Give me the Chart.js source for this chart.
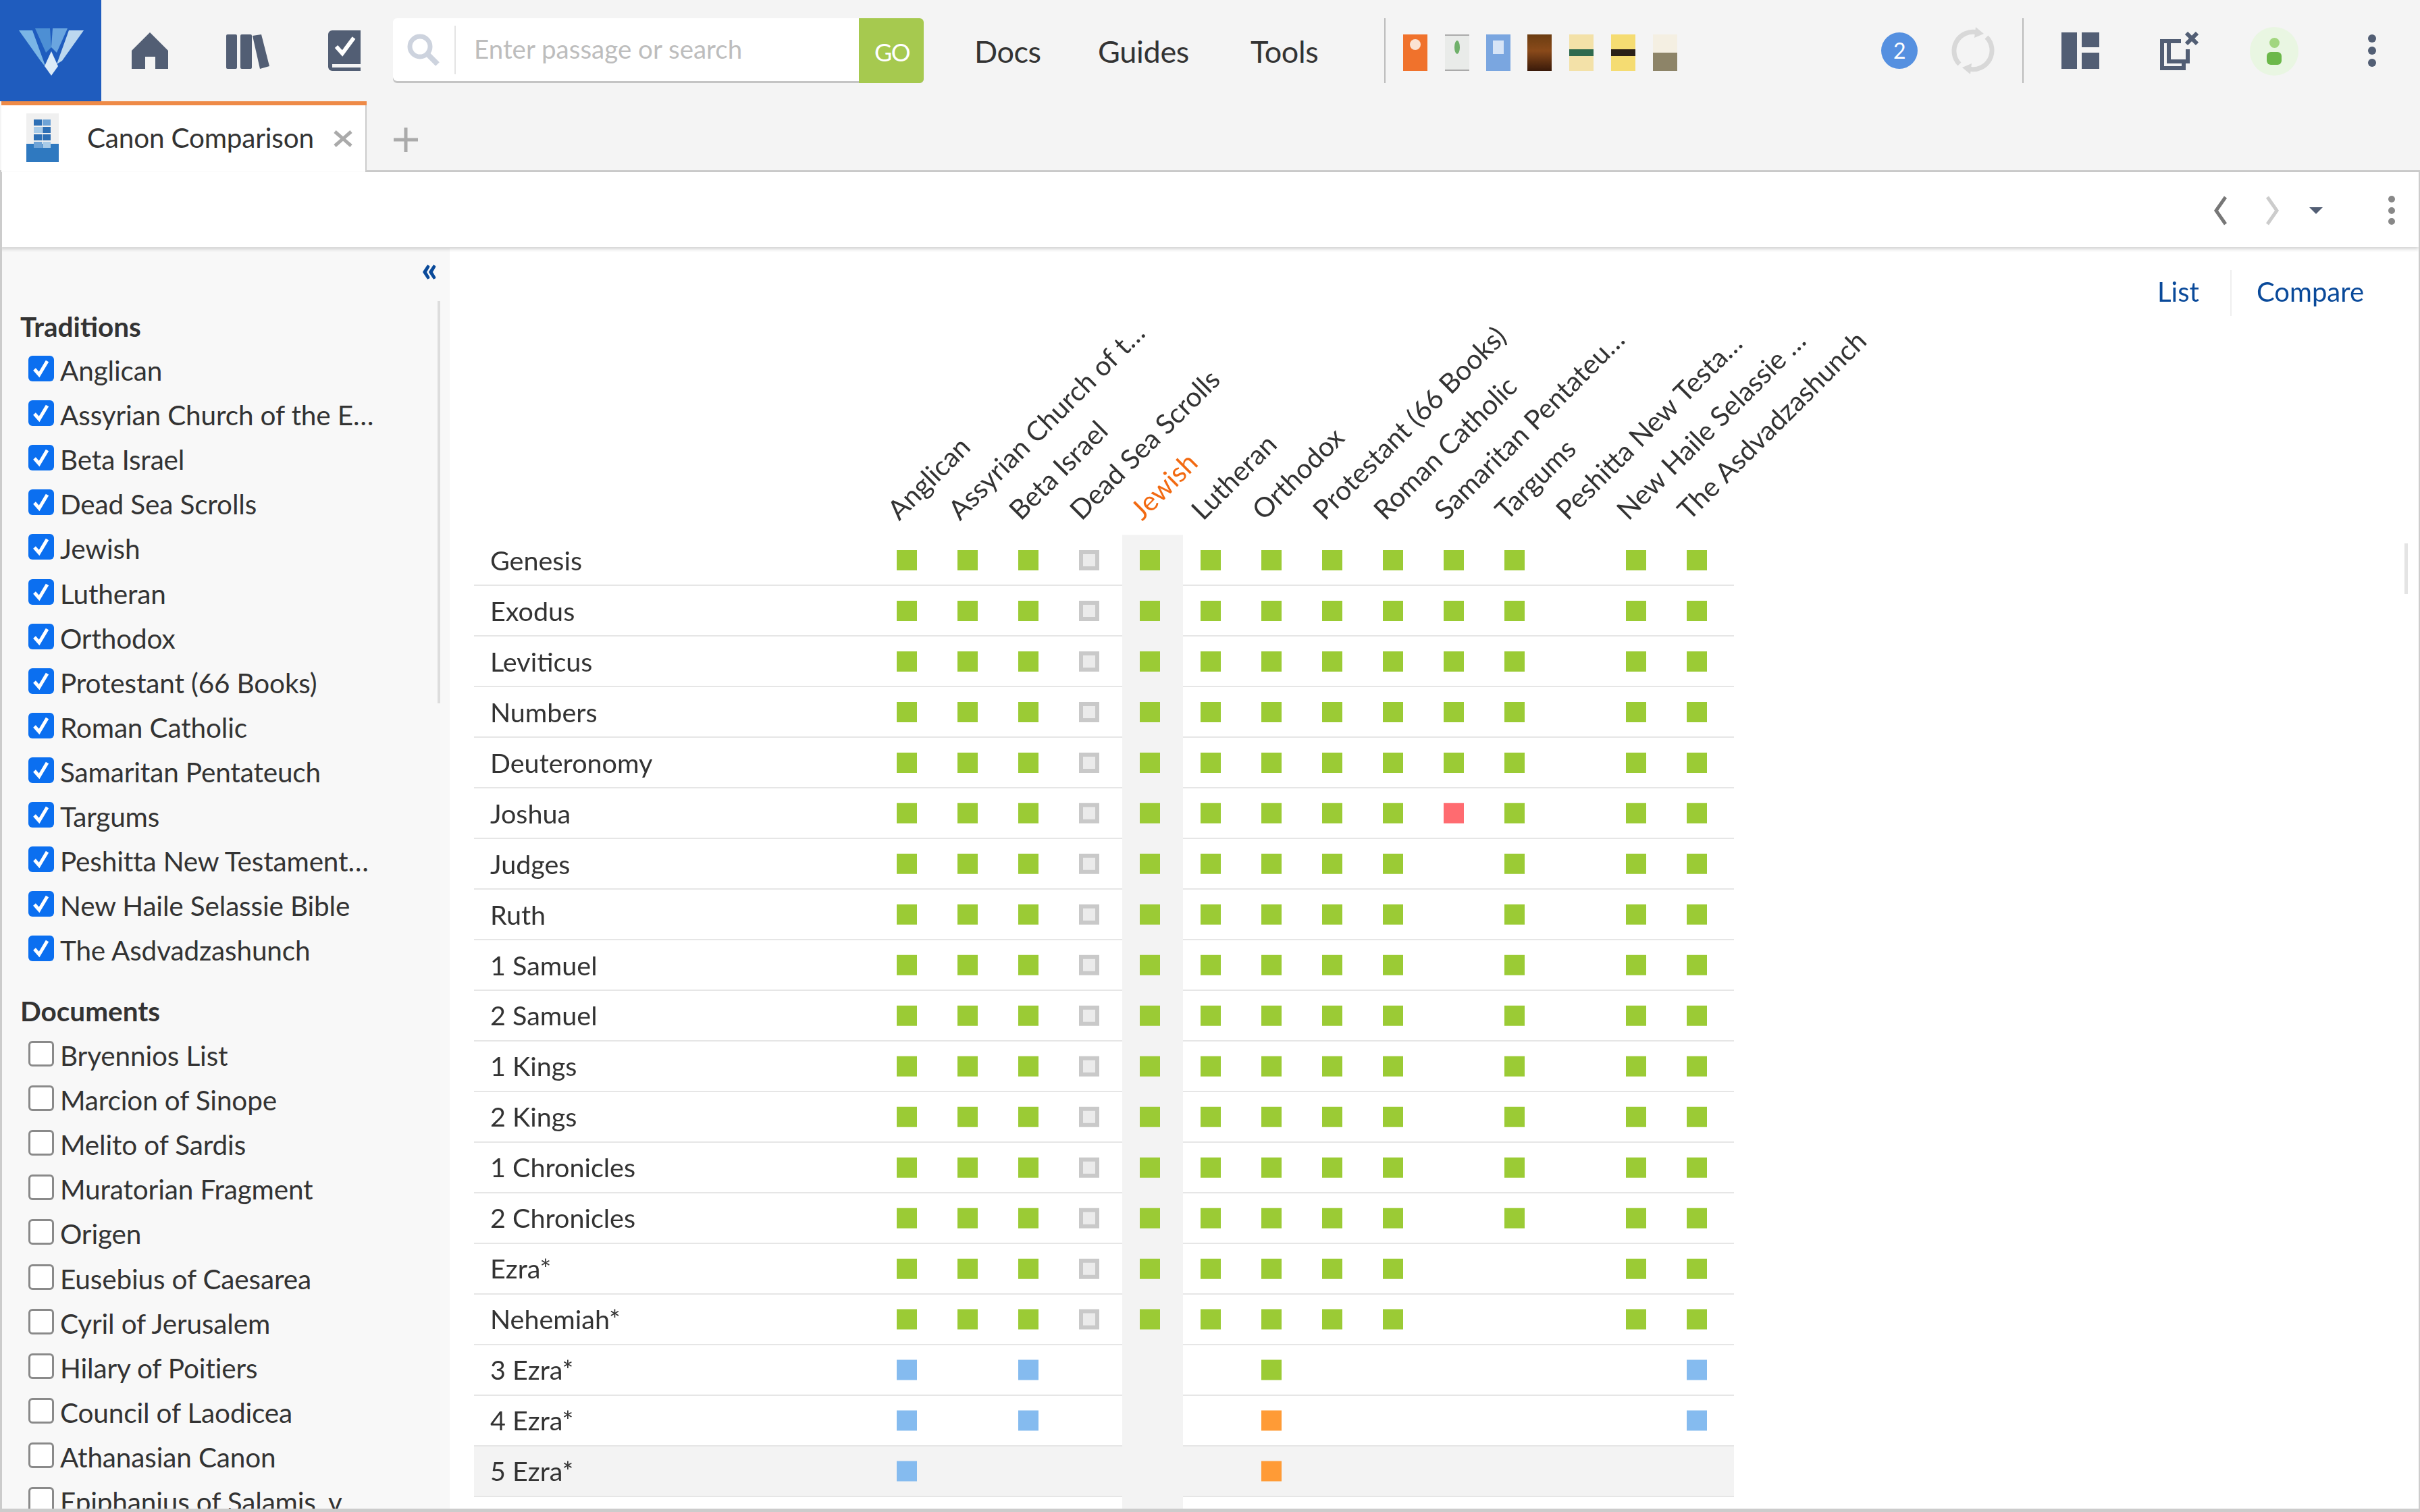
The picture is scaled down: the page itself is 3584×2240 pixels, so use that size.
<!DOCTYPE html>
<html>
<head>
<meta charset="utf-8">
<title>Canon Comparison</title>
<script src="https://cdn.jsdelivr.net/npm/chart.js@4"></script>
<style>
    html, body { margin: 0; padding: 0; width: 3584px; height: 2240px; overflow: hidden; background: #fff; }
    body { font-family: Lato, sans-serif; color: #333; position: relative; }
    .abs { position: absolute; }
    .txt { position: absolute; white-space: nowrap; line-height: 1; transform: translateY(-50%); }
    #topbar { left: 0; top: 0; width: 3584px; height: 252px; background: #f4f4f4; }
    #toolbar { left: 0; top: 255px; width: 3582px; height: 111px; background: #fff; box-shadow: 0 3px 5px rgba(0,0,0,.18); z-index: 2; }
    #sidebar { left: 3px; top: 368px; width: 663px; height: 1867px; background: #f8f8f8; overflow: hidden; }
    .check { position: absolute; left: 39px; width: 38px; height: 38px; border-radius: 6px; box-sizing: border-box; }
    .check.on { background: #0b6ff0; }
    .check.off { background: #fff; border: 3px solid #8a8a8a; }
    .side-label { font-size: 40.5px; letter-spacing: -0.15px; left: 86px; }
    .side-head { font-size: 40.5px; font-weight: 700; left: 27px; }
    #chartWrap { position: absolute; left: 668px; top: 370px; width: 2896px; height: 1870px; }
</style>
</head>
<body>
<div id="topbar" class="abs"></div>
<div class="abs" style="left:0;top:252px;width:3584px;height:3px;background:#ccc"></div>
<div class="abs" style="left:0;top:0;width:150px;height:150px;background:#1f5cbe"></div>
<svg class="abs" style="left:26px;top:40px" width="100" height="72" viewBox="0 0 100 72">
    <polygon points="2,5 22,5 42,60 34,50" fill="#7ab5e6"/>
    <polygon points="98,5 76,5 58,55 66,50" fill="#bcd8ef"/>
    <polygon points="26,2 48,2 50,30 42,38" fill="#4d8fd4"/>
    <polygon points="74,2 52,2 50,30 58,38" fill="#6aa5df"/>
    <polygon points="50,36 60,58 50,72 40,58" fill="#dcebf8"/>
</svg>
<svg class="abs" style="left:195px;top:48px" width="54" height="54" viewBox="0 0 54 54">
    <path d="M27 0 L54 27 V54 H35 V36 H20 V54 H0 V27 Z" fill="#525e74"/>
</svg>
<svg class="abs" style="left:335px;top:51px" width="64" height="51" viewBox="0 0 64 51">
    <rect x="0" width="16" height="51" rx="2" fill="#525e74"/><rect x="21" width="17" height="51" rx="2" fill="#525e74"/>
    <polygon points="39,2 52,0 64,47 50,51" fill="#525e74"/>
</svg>
<svg class="abs" style="left:486px;top:45px" width="48" height="60" viewBox="0 0 48 60">
    <path d="M6 0 H48 V60 H6 A6 6 0 0 1 0 54 V6 A6 6 0 0 1 6 0 Z" fill="#525e74"/>
    <rect x="6" y="50" width="42" height="5" fill="#f4f4f4"/>
    <path d="M12 24 L21 34 L38 11" fill="none" stroke="#fff" stroke-width="6"/>
</svg>
<div class="abs" style="left:582px;top:27px;width:786px;height:93px;background:#fff;border-radius:6px;box-shadow:0 3px 0 #c4c4c4"></div>
<svg class="abs" style="left:603px;top:50px" width="48" height="48" viewBox="0 0 48 48">
    <circle cx="19" cy="19" r="15" fill="none" stroke="#cdd3de" stroke-width="7"/><line x1="30" y1="30" x2="45" y2="45" stroke="#cdd3de" stroke-width="8"/>
</svg>
<div class="abs" style="left:673px;top:38px;width:2px;height:72px;background:#e4e4e4"></div>
<div class="txt" style="left:702px;top:72px;font-size:38.5px;color:#bdbdbd">Enter passage or search</div>
<div class="abs" style="left:1272px;top:27px;width:96px;height:96px;background:#a6c94f;border-radius:0 6px 6px 0"></div>
<div class="txt" style="left:1295px;top:77px;font-size:36px;letter-spacing:-1.5px;color:#fff">GO</div>
<div class="txt" style="left:1443px;top:76px;font-size:45px;letter-spacing:-.5px">Docs</div>
<div class="txt" style="left:1626px;top:76px;font-size:45px;letter-spacing:-.3px">Guides</div>
<div class="txt" style="left:1852px;top:76px;font-size:45px;letter-spacing:-.4px">Tools</div>
<div class="abs" style="left:2050px;top:27px;width:2px;height:96px;background:#bbb"></div>
<div class="abs" style="left:2078px;top:51px;width:36px;height:54px;background:#f0722c"></div>
<div class="abs" style="left:2088px;top:58px;width:16px;height:16px;border-radius:50%;background:#fbe3d3"></div>
<div class="abs" style="left:2140px;top:51px;width:36px;height:54px;background:#e9ebe9;border-top:2px solid #aaa;border-bottom:2px solid #aaa;box-sizing:border-box"></div>
<div class="abs" style="left:2154px;top:60px;width:8px;height:20px;border-radius:50%;background:#6fb06a"></div>
<div class="abs" style="left:2201px;top:51px;width:36px;height:54px;background:#7aa6e0"></div>
<div class="abs" style="left:2211px;top:60px;width:16px;height:20px;background:#d7e4f6"></div>
<div class="abs" style="left:2262px;top:51px;width:36px;height:54px;background:linear-gradient(#6b3d12,#8a4a1a 45%,#3a1a0a)"></div>
<div class="abs" style="left:2324px;top:51px;width:36px;height:54px;background:linear-gradient(#f3e1a8 40%,#2f6a4e 40%,#2f6a4e 60%,#f3e1a8 60%)"></div>
<div class="abs" style="left:2386px;top:51px;width:36px;height:54px;background:linear-gradient(#f5dc72 40%,#2a2018 40%,#2a2018 60%,#f5dc72 60%)"></div>
<div class="abs" style="left:2448px;top:51px;width:36px;height:54px;background:linear-gradient(#f4efe2 50%,#8d8468 50%)"></div>
<div class="abs" style="left:2786px;top:48px;width:54px;height:54px;border-radius:50%;background:#5590e0"></div>
<div class="txt" style="left:2804px;top:75px;font-size:32px;color:#fff">2</div>
<svg class="abs" style="left:2888px;top:40px" width="68" height="70" viewBox="0 0 68 70">
    <path d="M14 55 A28 28 0 0 1 40 8" fill="none" stroke="#d8d8d8" stroke-width="7"/><path d="M54 15 A28 28 0 0 1 28 62" fill="none" stroke="#d8d8d8" stroke-width="7"/>
    <polygon points="38,0 50,10 36,16" fill="#d8d8d8"/><polygon points="30,70 18,60 32,54" fill="#d8d8d8"/>
</svg>
<div class="abs" style="left:2995px;top:27px;width:2px;height:96px;background:#bbb"></div>
<svg class="abs" style="left:3053px;top:48px" width="56" height="54" viewBox="0 0 56 54">
    <rect width="23" height="54" fill="#525e74"/><rect x="30" width="26" height="22" fill="#525e74"/><rect x="30" y="30" width="26" height="24" fill="#525e74"/>
</svg>
<svg class="abs" style="left:3194px;top:47px" width="62" height="58" viewBox="0 0 62 58">
    <path d="M22 14 H8 V42 M8 42 V54 H40 V44" fill="none" stroke="#525e74" stroke-width="6"/>
    <path d="M36 14 H18 V44 H46 V26" fill="none" stroke="#525e74" stroke-width="6"/>
    <path d="M44 2 L60 18 M60 2 L44 18" stroke="#525e74" stroke-width="6"/>
</svg>
<div class="abs" style="left:3332px;top:40px;width:72px;height:72px;border-radius:50%;background:#e9f6e2"></div>
<div class="abs" style="left:3361px;top:56px;width:15px;height:15px;border-radius:50%;background:#a2d67f"></div>
<div class="abs" style="left:3357px;top:77px;width:22px;height:19px;border-radius:6px;background:#6cb84a"></div>
<div class="abs" style="left:3507px;top:51px;width:12px;height:12px;border-radius:50%;background:#525e74"></div>
<div class="abs" style="left:3507px;top:69px;width:12px;height:12px;border-radius:50%;background:#525e74"></div>
<div class="abs" style="left:3507px;top:87px;width:12px;height:12px;border-radius:50%;background:#525e74"></div>

<div class="abs" style="left:2px;top:150px;width:539px;height:105px;background:#fff;border-right:2px solid #ccc;z-index:1"></div>
<div class="abs" style="left:2px;top:150px;width:541px;height:6px;background:#ee8a47;z-index:1"></div>
<div class="abs" style="left:39px;top:168px;width:48px;height:72px;z-index:1;background:linear-gradient(#f0f0f0 62%,#2f79c0 62%)"></div>
<div class="abs" style="left:50px;top:177px;width:12px;height:9px;background:#2d6fb5;box-shadow:13px 0 #6ea3d6,0 11px #a8cbe8,13px 11px #2d6fb5,0 22px #2d6fb5,13px 22px #2d6fb5,0 33px #6ea3d6,13px 33px #a8cbe8;z-index:1"></div>
<div class="txt" style="left:129px;top:204px;font-size:40.5px;letter-spacing:-.2px;z-index:1">Canon Comparison</div>
<svg class="abs" style="left:493px;top:192px;z-index:1" width="30" height="27" viewBox="0 0 30 27"><path d="M3 3 L27 24 M27 3 L3 24" stroke="#aaa" stroke-width="5"/></svg>
<svg class="abs" style="left:583px;top:189px" width="36" height="36" viewBox="0 0 36 36"><path d="M18 0 V36 M0 18 H36" stroke="#aaa" stroke-width="5"/></svg>

<div id="toolbar" class="abs"></div>
<div class="abs" style="left:3582px;top:255px;width:2px;height:1985px;background:#ccc;z-index:3"></div>
<div class="abs" style="left:0;top:255px;width:3px;height:1985px;background:#ccc;z-index:3"></div>
<svg class="abs" style="left:3276px;top:290px;z-index:3" width="174" height="44" viewBox="0 0 174 44">
    <path d="M20 2 L6 22 L20 42" fill="none" stroke="#777" stroke-width="5"/>
    <path d="M82 2 L96 22 L82 42" fill="none" stroke="#ccc" stroke-width="5"/>
    <polygon points="144,17 164,17 154,27" fill="#525e74"/>
</svg>
<div class="abs" style="left:3537px;top:290px;width:10px;height:10px;border-radius:50%;background:#888;z-index:3"></div>
<div class="abs" style="left:3537px;top:307px;width:10px;height:10px;border-radius:50%;background:#888;z-index:3"></div>
<div class="abs" style="left:3537px;top:323px;width:10px;height:10px;border-radius:50%;background:#888;z-index:3"></div>

<div id="sidebar" class="abs"></div>
<div class="abs" style="left:648px;top:446px;width:4px;height:596px;background:#ddd"></div>
<div class="txt" style="left:624px;top:397px;font-size:52px;font-weight:900;color:#0a4a9a">«</div>

<div id="chartWrap"><canvas id="canonChart" width="2896" height="1870"></canvas></div>

<div class="txt" style="left:3195px;top:432px;font-size:40px;color:#0a4a9a">List</div>
<div class="abs" style="left:3303px;top:400px;width:2px;height:68px;background:#eee"></div>
<div class="txt" style="left:3342px;top:432px;font-size:40px;color:#0a4a9a">Compare</div>
<div class="abs" style="left:3561px;top:805px;width:5px;height:75px;background:#e4e4e4"></div>
<div class="abs" style="left:0;top:2235px;width:3584px;height:5px;background:#ccc;z-index:3"></div>

<script>
// Column and row labels, as they are shown (truncated) in the picture
const traditions = ['Anglican', 'Assyrian Church of t…', 'Beta Israel', 'Dead Sea Scrolls', 'Jewish', 'Lutheran',
    'Orthodox', 'Protestant (66 Books)', 'Roman Catholic', 'Samaritan Pentateu…', 'Targums',
    'Peshitta New Testa…', 'New Haile Selassie …', 'The Asdvadzashunch'];
const books = ['Genesis', 'Exodus', 'Leviticus', 'Numbers', 'Deuteronomy', 'Joshua', 'Judges', 'Ruth', '1 Samuel',
    '2 Samuel', '1 Kings', '2 Kings', '1 Chronicles', '2 Chronicles', 'Ezra*', 'Nehemiah*', '3 Ezra*', '4 Ezra*', '5 Ezra*'];

// Sidebar lists
const traditionChecks = ['Anglican', 'Assyrian Church of the E…', 'Beta Israel', 'Dead Sea Scrolls', 'Jewish', 'Lutheran',
    'Orthodox', 'Protestant (66 Books)', 'Roman Catholic', 'Samaritan Pentateuch', 'Targums',
    'Peshitta New Testament…', 'New Haile Selassie Bible', 'The Asdvadzashunch'];
const documentChecks = ['Bryennios List', 'Marcion of Sinope', 'Melito of Sardis', 'Muratorian Fragment', 'Origen',
    'Eusebius of Caesarea', 'Cyril of Jerusalem', 'Hilary of Poitiers', 'Council of Laodicea', 'Athanasian Canon',
    'Epiphanius of Salamis, v…'];

// Cell status per tradition, one value per book
// C = canon, S = secondary (blue), D = disputed (orange), R = rejected (red), P = partial (grey)
const C = 'C', S = 'S', D = 'D', R = 'R', P = 'P', _ = null;
const anglican   = [C,C,C,C,C,C,C,C,C,C,C,C,C,C,C,C,S,S,S];
const assyrian   = [C,C,C,C,C,C,C,C,C,C,C,C,C,C,C,C,_,_,_];
const betaIsrael = [C,C,C,C,C,C,C,C,C,C,C,C,C,C,C,C,S,S,_];
const deadSea    = [P,P,P,P,P,P,P,P,P,P,P,P,P,P,P,P,_,_,_];
const jewish     = [C,C,C,C,C,C,C,C,C,C,C,C,C,C,C,C,_,_,_];
const lutheran   = [C,C,C,C,C,C,C,C,C,C,C,C,C,C,C,C,_,_,_];
const orthodox   = [C,C,C,C,C,C,C,C,C,C,C,C,C,C,C,C,C,D,D];
const protestant = [C,C,C,C,C,C,C,C,C,C,C,C,C,C,C,C,_,_,_];
const catholic   = [C,C,C,C,C,C,C,C,C,C,C,C,C,C,C,C,_,_,_];
const samaritan  = [C,C,C,C,C,R,_,_,_,_,_,_,_,_,_,_,_,_,_];
const targums    = [C,C,C,C,C,C,C,C,C,C,C,C,C,C,_,_,_,_,_];
const peshitta   = [_,_,_,_,_,_,_,_,_,_,_,_,_,_,_,_,_,_,_];
const haile      = [C,C,C,C,C,C,C,C,C,C,C,C,C,C,C,C,_,_,_];
const asdvadz    = [C,C,C,C,C,C,C,C,C,C,C,C,C,C,C,C,S,S,_];
const columns = [anglican, assyrian, betaIsrael, deadSea, jewish, lutheran, orthodox, protestant, catholic,
    samaritan, targums, peshitta, haile, asdvadz];

const highlightedColumn = 'Jewish';
const highlightedRow = '5 Ezra*';

function buildSidebar() {
    const sidebar = document.getElementById('sidebar');
    const tick = '<svg width="38" height="38" viewBox="0 0 38 38" style="display:block"><path d="M9 20 L16 28 L28 8" fill="none" stroke="#fff" stroke-width="5"/></svg>';

    const addHead = (text, y) => {
        sidebar.insertAdjacentHTML('beforeend', `<div class="txt side-head" style="top:${y - 368}px">${text}</div>`);
    };
    const addRow = (text, y, on) => {
        sidebar.insertAdjacentHTML('beforeend',
            `<div class="check ${on ? 'on' : 'off'}" style="top:${y - 368 - 22}px">${on ? tick : ''}</div>` +
            `<div class="txt side-label" style="top:${y - 368}px">${text}</div>`);
    };

    addHead('Traditions', 484);
    traditionChecks.forEach((t, i) => addRow(t, 549 + i * 66.1, true));
    addHead('Documents', 1498);
    documentChecks.forEach((t, i) => addRow(t, 1564 + i * 66.1, false));
}

function pointsFor(status) {
    const points = [];
    columns.forEach((col, x) => col.forEach((s, row) => {
        if (s === status) points.push({ x: x, y: books[row] });
    }));
    return points;
}

function statusDataset(status, color, extra) {
    return Object.assign({
        label: status,
        data: pointsFor(status),
        pointStyle: 'rect',
        pointRadius: 21.21,
        pointBackgroundColor: color,
        pointBorderWidth: 0,
        pointHoverRadius: 21.21,
        showLine: false
    }, extra);
}

// Shaded row under the grid, shaded column over it
const highlightPlugin = {
    id: 'highlight',
    beforeDraw(chart) {
        const { ctx, scales: { y } } = chart;
        const rowY = y.getPixelForValue(books.indexOf(highlightedRow));
        ctx.save();
        ctx.fillStyle = '#f3f3f3';
        ctx.fillRect(chart.chartArea.left, rowY - 37.5, chart.chartArea.width, 75);
        ctx.restore();
    },
    beforeDatasetsDraw(chart) {
        const { ctx, scales: { x } } = chart;
        const colX = x.getPixelForValue(traditions.indexOf(highlightedColumn));
        ctx.save();
        ctx.fillStyle = '#f3f3f3';
        ctx.fillRect(colX - 41, chart.chartArea.top, 90, chart.height - chart.chartArea.top);
        ctx.restore();
    }
};

function initChart() {
    const ctx = document.getElementById('canonChart');

    return new Chart(ctx, {
        type: 'scatter',
        data: {
            datasets: [
                statusDataset(C, '#9bcb35'),
                statusDataset(S, '#85bbef'),
                statusDataset(D, '#ff9b36'),
                statusDataset(R, '#ff6b70'),
                statusDataset(P, '#ebebeb', { pointRadius: 16.97, pointHoverRadius: 16.97, pointBorderWidth: 6, pointBorderColor: '#c9c9c9' })
            ]
        },
        options: {
            responsive: false,
            devicePixelRatio: 1,
            animation: false,
            layout: { padding: { left: 34, right: 996, top: 0, bottom: 22.5 } },
            plugins: { legend: { display: false }, tooltip: { enabled: false } },
            scales: {
                x: {
                    type: 'linear',
                    position: 'top',
                    // 90px a column: the plot also runs under the row labels on the left
                    min: -7.1222,
                    max: 13.6111,
                    grid: { display: false },
                    border: { display: false },
                    afterBuildTicks(scale) {
                        scale.ticks = traditions.map((_t, i) => ({ value: i }));
                    },
                    afterFit(scale) {
                        scale.height = 422.5;
                    },
                    ticks: {
                        autoSkip: false,
                        minRotation: 45,
                        maxRotation: 45,
                        padding: 4,
                        labelOffset: 14,
                        font: { family: 'Lato', size: 40.5 },
                        color: (c) => c.index === traditions.indexOf(highlightedColumn) ? '#f26a12' : '#333',
                        callback: (value) => traditions[value]
                    }
                },
                y: {
                    type: 'category',
                    labels: books,
                    offset: true,
                    border: { display: false },
                    afterFit(scale) {
                        scale.width = 0;
                        // no room kept for half a label above and below the rows
                        scale.paddingTop = 0;
                        scale.paddingBottom = 0;
                    },
                    grid: {
                        offset: true,
                        drawTicks: false,
                        lineWidth: 2,
                        color: (c) => c.index === 0 ? 'transparent' : '#e6e6e6'
                    },
                    ticks: {
                        mirror: true,
                        padding: 24,
                        labelOffset: 2,
                        autoSkip: false,
                        font: { family: 'Lato', size: 39.5 },
                        color: '#333'
                    }
                }
            }
        },
        plugins: [highlightPlugin]
    });
}

buildSidebar();
window.canonChart = initChart();
</script>
</body>
</html>
